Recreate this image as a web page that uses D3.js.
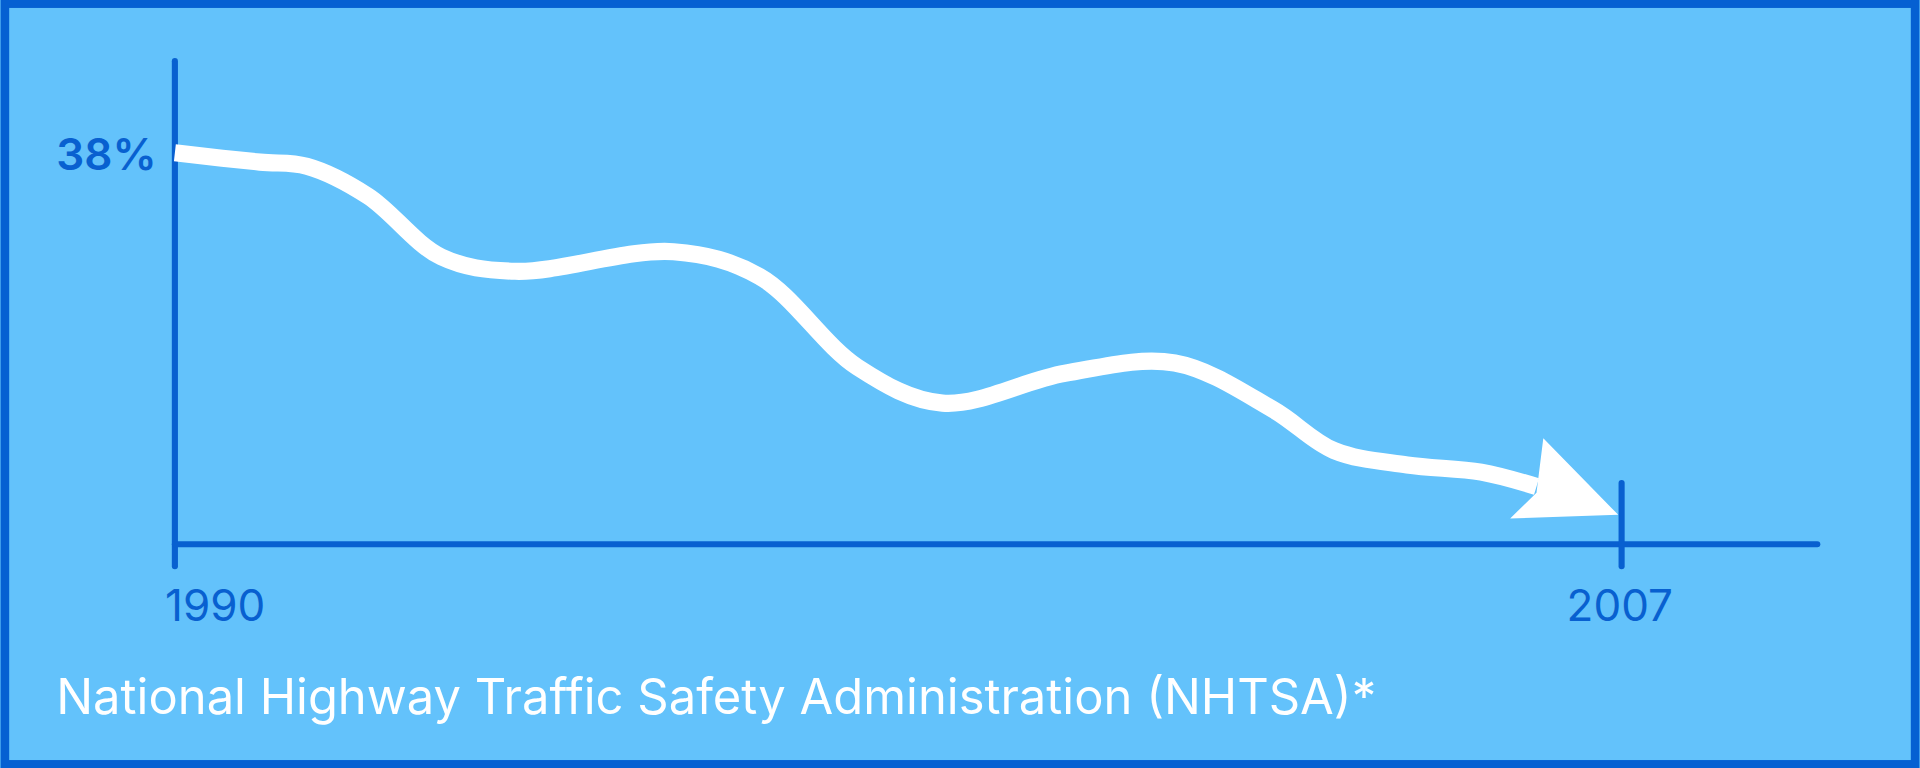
<!DOCTYPE html>
<html><head><meta charset="utf-8">
<script src="https://cdn.jsdelivr.net/npm/d3@7"></script>
<style>body{margin:0;background:#63c2fb}svg{display:block}</style>
</head><body>
<svg id="chart" width="1920" height="768" viewBox="0 0 1568 628"></svg>
<script>
// trend of the rate
var years = [1990, 1991, 1991.55, 1992.27, 1993.13, 1994, 1995.86, 1996.87, 1998.02, 1999.02, 2000.46, 2001.75, 2002.9, 2003.62, 2004.48, 2005.35, 2006];
var rates = [38, 37.1, 36.7, 33.8, 27.9, 26.5, 28.4, 26.0, 17.2, 13.7, 16.6, 17.6, 13.1, 9.1, 7.7, 7.0, 5.6];
var arrowYears = [2006.08, 2006.96, 2005.69, 2006.0];
var arrowRates = [10.3, 2.85, 2.5, 5.0];
var xTicks = ["1990", "2007"];
var topLabel = "38%";
var source = "National Highway Traffic Safety Administration (NHTSA)*";

var dark = "#0860d0";
var svg = d3.select("#chart");

svg.append("rect").attr("x", 3).attr("y", 3).attr("width", 1562).attr("height", 622)
  .attr("fill", "#63c2fb").attr("stroke", "#0560d2").attr("stroke-width", 7);

var xScale = d3.scaleLinear().domain([1990, 2007]).range([142, 1325]),
    yScale = d3.scaleLinear().domain([0, 38]).range([445, 125]);

// axes
svg.append("line").attr("x1", 142).attr("x2", 142).attr("y1", 50).attr("y2", 463)
  .attr("stroke", dark).attr("stroke-width", 5).attr("stroke-linecap", "round");
svg.append("line").attr("x1", 142).attr("x2", 1485).attr("y1", 445).attr("y2", 445)
  .attr("stroke", dark).attr("stroke-width", 5).attr("stroke-linecap", "round");
svg.append("line").attr("x1", xScale(2007)).attr("x2", xScale(2007)).attr("y1", 395).attr("y2", 463)
  .attr("stroke", dark).attr("stroke-width", 5).attr("stroke-linecap", "round");

svg.selectAll(".xlab").data(xTicks).enter().append("text")
  .attr("x", function(d, i) { return i == 0 ? 134 : 1280; })
  .attr("y", 508).attr("fill", dark)
  .style("font", "36px Inter, 'Noto Sans', sans-serif")
  .text(function(d) { return d; });

svg.append("text").attr("x", 45).attr("y", 139).attr("fill", dark)
  .style("font", "600 36px Inter, 'Noto Sans', sans-serif").text(topLabel);

svg.append("text").attr("x", 45).attr("y", 584).attr("fill", "#fff")
  .style("font", "40px Inter, 'Noto Sans', sans-serif").text(source);

// trend line
var line = d3.line().curve(d3.curveCatmullRom.alpha(0.5))
  .x(function(d) { return xScale(d[0]); })
  .y(function(d) { return yScale(d[1]); });

svg.append("path").attr("d", line(d3.zip(years, rates)))
  .attr("fill", "none").attr("stroke", "#fff").attr("stroke-width", 14);

var arrow = d3.zip(arrowYears, arrowRates).map(function(d) { return [xScale(d[0]), yScale(d[1])]; });
svg.append("polygon").attr("points", arrow.map(function(p) { return p.join(","); }).join(" "))
  .attr("fill", "#fff");
</script>
</body></html>
